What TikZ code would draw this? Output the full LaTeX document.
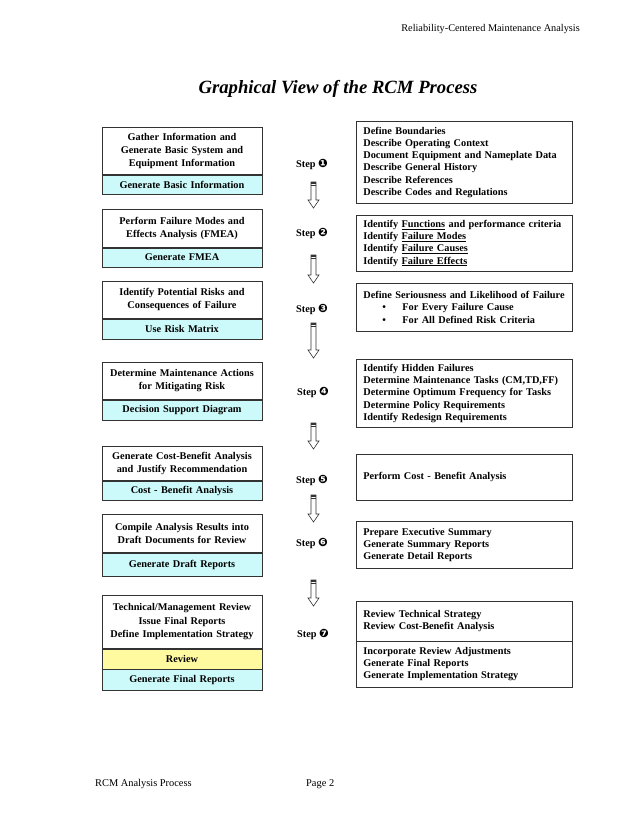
\documentclass[tikz,border=0pt]{standalone}
\usepackage{fontspec}
\setmainfont{Liberation Serif}
\newfontfamily\dingfont{DejaVu Sans}
\usetikzlibrary{positioning}

\definecolor{bandcyan}{RGB}{204,250,250}
\definecolor{bandyellow}{RGB}{255,250,160}

\begin{document}
\begin{tikzpicture}[x=1pt,y=-1pt,
	leftbox/.style={shape=rectangle,draw=black!80,line width=0.7pt,minimum width=160pt,text width=156pt,align=center,inner sep=0pt,font=\bfseries\fontsize{10.3}{13}\selectfont},
	band/.style={leftbox,anchor=north},
	rightbox/.style={shape=rectangle,draw=black!80,line width=0.7pt,anchor=north west,minimum width=216pt,text width=202pt,align=left,inner xsep=7pt,inner ysep=0pt,font=\bfseries\fontsize{10.3}{12.2}\selectfont},
	steplabel/.style={anchor=west,inner sep=0pt,font=\bfseries\fontsize{10.3}{12}\selectfont},
	hollowarrow/.style={draw=black!80,line width=0.6pt,fill=white}]
	\useasboundingbox (0,0) rectangle (638,826);

	% page header, title and footer
	\draw (580,29.5) node (header) [anchor=east,inner sep=0pt,font=\fontsize{10.3}{12}\selectfont] {Reliability-Centered Maintenance Analysis};
	\draw (338,89) node (title) [font=\bfseries\itshape\fontsize{18.7}{22}\selectfont] {Graphical View of the RCM Process};
	\draw (95,784) node (footer) [anchor=west,inner sep=0pt,font=\fontsize{10.4}{12}\selectfont] {RCM Analysis Process};
	\draw (306,784) node (page) [anchor=west,inner sep=0pt,font=\fontsize{10.4}{12}\selectfont] {Page 2};

	% left column
	\draw (182,127) node (gather) [leftbox,anchor=north,minimum height=47pt] {Gather Information and\\Generate Basic System and\\Equipment Information};
	\node (basicinfo) [band,fill=bandcyan,minimum height=19pt,below=0pt of gather] {Generate Basic Information};
	\draw (182,209) node (fmea) [leftbox,anchor=north,minimum height=38pt] {Perform Failure Modes and\\Effects Analysis (FMEA)};
	\node (genfmea) [band,fill=bandcyan,minimum height=19pt,below=0pt of fmea] {Generate FMEA};
	\draw (182,281) node (risks) [leftbox,anchor=north,minimum height=37pt] {Identify Potential Risks and\\Consequences of Failure};
	\node (matrix) [band,fill=bandcyan,minimum height=20pt,below=0pt of risks] {Use Risk Matrix};
	\draw (182,362) node (actions) [leftbox,anchor=north,minimum height=37pt] {Determine Maintenance Actions\\for Mitigating Risk};
	\node (decision) [band,fill=bandcyan,minimum height=20pt,below=0pt of actions] {Decision Support Diagram};
	\draw (182,446) node (costben) [leftbox,anchor=north,minimum height=34pt] {Generate Cost-Benefit Analysis\\and Justify Recommendation};
	\node (cba) [band,fill=bandcyan,minimum height=19pt,below=0pt of costben] {Cost - Benefit Analysis};
	\draw (182,514) node (compile) [leftbox,anchor=north,minimum height=38pt] {Compile Analysis Results into\\Draft Documents for Review};
	\node (draft) [band,fill=bandcyan,minimum height=23pt,below=0pt of compile] {Generate Draft Reports};
	\draw (182,595) node (mgmt) [leftbox,anchor=north,minimum height=53pt,font=\bfseries\fontsize{10.3}{13.7}\selectfont] {Technical/Management Review\\Issue Final Reports\\Define Implementation Strategy};
	\node (review) [band,fill=bandyellow,minimum height=20pt,below=0pt of mgmt] {Review};
	\node (final) [band,fill=bandcyan,minimum height=21pt,below=0pt of review] {Generate Final Reports};

	% steps
	\draw (296,164) node (step1) [steplabel] {Step {\dingfont\fontsize{11.5}{11}\selectfont ❶}};
	\draw (296,233) node (step2) [steplabel] {Step {\dingfont\fontsize{11.5}{11}\selectfont ❷}};
	\draw (296,309) node (step3) [steplabel] {Step {\dingfont\fontsize{11.5}{11}\selectfont ❸}};
	\draw (297,392) node (step4) [steplabel] {Step {\dingfont\fontsize{11.5}{11}\selectfont ❹}};
	\draw (296,480) node (step5) [steplabel] {Step {\dingfont\fontsize{11.5}{11}\selectfont ❺}};
	\draw (296,543) node (step6) [steplabel] {Step {\dingfont\fontsize{11.5}{11}\selectfont ❻}};
	\draw (297,634) node (step7) [steplabel] {Step {\dingfont\fontsize{11.5}{11}\selectfont ❼}};

	% hollow down arrows between the steps
	\foreach \t/\b in {182/208,255/283,323/358,423/449,495/522,580/606} {
		\draw[hollowarrow] (311,\t) -- (316,\t) -- (316,{\b-8}) -- (319,{\b-8}) -- (313.5,\b) -- (308,{\b-8}) -- (311,{\b-8}) -- cycle;
		\fill[black!80] (311,\t) rectangle (316,{\t+1.8});
		\draw[black!80,line width=0.5pt] (311,{\t+3.5}) -- (316,{\t+3.5});
	}

	% right column
	\draw (356,121) node (boundaries) [rightbox,minimum height=82pt] {Define Boundaries\\Describe Operating Context\\Document Equipment and Nameplate Data\\Describe General History\\Describe References\\Describe Codes and Regulations};
	\draw (356,215) node (identify) [rightbox,minimum height=56pt] {Identify \underline{Functions} and performance criteria\\Identify \underline{Failure Modes}\\Identify \underline{Failure Causes}\\Identify \underline{Failure Effects}};
	\draw (356,283) node (severity) [rightbox,minimum height=48pt] {Define Seriousness and Likelihood of Failure\\\hspace*{19pt}\makebox[20pt][l]{•}For Every Failure Cause\\\hspace*{19pt}\makebox[20pt][l]{•}For All Defined Risk Criteria};
	\draw (356,359) node (tasks) [rightbox,minimum height=68pt] {Identify Hidden Failures\\Determine Maintenance Tasks (CM,TD,FF)\\Determine Optimum Frequency for Tasks\\Determine Policy Requirements\\Identify Redesign Requirements};
	\draw (356,454) node (perform) [rightbox,minimum height=46pt] {Perform Cost - Benefit Analysis};
	\draw (356,521) node (reports) [rightbox,minimum height=47pt] {Prepare Executive Summary\\Generate Summary Reports\\Generate Detail Reports};
	\draw (356,601) node (strategy) [rightbox,minimum height=40pt] {Review Technical Strategy\\Review Cost-Benefit Analysis};
	\draw (356,641) node (adjust) [rightbox,minimum height=46pt] {Incorporate Review Adjustments\\Generate Final Reports\\Generate Implementation Strategy};
\end{tikzpicture}
\end{document}
